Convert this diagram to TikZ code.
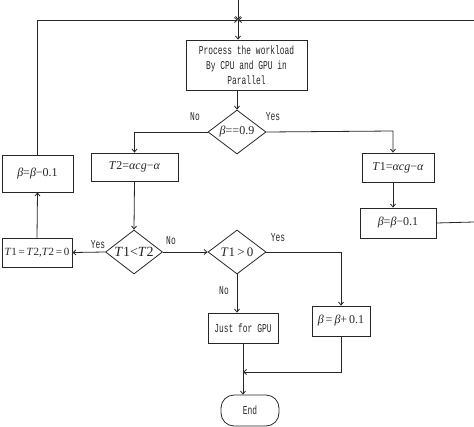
\documentclass[tikz,border=0pt]{standalone}
\usepackage{fontspec}
\setmainfont{Liberation Serif}
\newfontfamily\simfont[FakeStretch=0.66]{Liberation Mono}
\usetikzlibrary{arrows.meta,shapes.geometric}
\begin{document}
\begin{tikzpicture}[x=1pt,y=-1pt,line width=0.8pt,color=black!85,
  tip/.style={-{Straight Barb[length=3pt,width=5pt]}},
  box/.style={draw,rectangle,inner sep=0pt,align=center,font=\fontsize{12}{14}\selectfont},
  dia/.style={draw,diamond,inner sep=0pt,aspect=1.3,font=\fontsize{13}{15}\selectfont},
  lab/.style={font=\simfont\fontsize{12}{14}\selectfont,inner sep=0pt},
  endbox/.style={draw,rectangle,rounded corners=13pt,inner sep=0pt,font=\simfont\fontsize{12}{14}\selectfont}]
\useasboundingbox (0,0) rectangle (474,426);
% top
\coordinate (top) at (238,0);
\coordinate (j) at (238,20);
\coordinate (tr) at (474,20);
\node[box,minimum width=121,minimum height=50,font=\simfont\fontsize{12}{15}\selectfont] (proc) at (246.5,65)
  {Process the workload\\By CPU and GPU in\\Parallel};
\draw[tip] (top) -- (j);
\draw[tip] (j) -- (j |- proc.north);
% decision beta==0.9
\node[dia,minimum width=58,minimum height=44,font=\fontsize{12}{14}\selectfont] (d1) at (237,132) {\textit{β}==0.9};
\draw[tip] (d1.north |- proc.south) -- (d1.north);
\node[lab] (no1) at (195,117) {No};
\node[lab] (yes1) at (273,117) {Yes};
% left branch
\node[box,minimum width=87,minimum height=28] (t2) at (134.5,167) {\textit{T}2=\textit{αcg}−\textit{α}};
\draw[tip] (d1.west) -| (t2.north);
% right branch
\coordinate (rc) at (393,131);
\node[box,minimum width=72,minimum height=29] (t1) at (398,167.5) {\textit{T}1=\textit{αcg}−\textit{α}};
\draw[tip] (d1.east) -- (rc) -- (rc |- t1.north);
\node[box,minimum width=76,minimum height=30] (b2) at (398,223) {\textit{β}=\textit{β}−0.1};
\draw[tip] (rc |- t1.south) -- (rc |- b2.north);
\coordinate (re) at (474,222);
\draw (b2.east) -- (re);
% far left loop
\node[box,minimum width=71,minimum height=37] (b1) at (37.5,173.5) {\textit{β}=\textit{β}−0.1};
\node[box,minimum width=70,minimum height=29,font=\fontsize{11}{13}\selectfont] (t3) at (37,252.5) {\textit{T}1\,=\,\textit{T}2,\textit{T}2\,=\,0};
\draw[tip] (t3.north) -- (b1.south);
\draw[tip] (b1.north) -- (b1.north |- j) -- (j);
\draw[tip] (tr) -- (j);
% second row decisions
\node[dia,minimum width=57,minimum height=44,font=\fontsize{14}{16}\selectfont] (d2) at (134,252) {\textit{T}1<\textit{T}2};
\draw[tip] (t2.south) -- (d2.north);
\draw[tip] (d2.west) -- (t3.east);
\node[lab] (yes2) at (98,245) {Yes};
\node[dia,minimum width=58,minimum height=44,font=\fontsize{13}{15}\selectfont] (d3) at (237,252) {\textit{T}1\,>\,0};
\draw[tip] (d2.east) -- (d3.west);
\node[lab] (no2) at (171,241) {No};
% bottom
\node[box,minimum width=70,minimum height=30,font=\simfont\fontsize{12}{14}\selectfont] (g) at (243,328) {Just for GPU};
\draw[tip] (d3.south) -- (d3.south |- g.north);
\node[lab] (no3) at (224,291) {No};
\node[box,minimum width=58,minimum height=30] (b3) at (341,321) {\textit{β}\,=\,\textit{β}+\,0.1};
\draw[tip] (d3.east) -| (b3.north);
\node[lab] (yes3) at (278,238) {Yes};
\coordinate (m) at (243,372);
\draw[tip] (b3.south) |- (m);
\node[endbox,minimum width=58,minimum height=31] (e) at (250,410.5) {End};
\draw[tip] (g.south) -- (g.south |- e.north);
\end{tikzpicture}
\end{document}
